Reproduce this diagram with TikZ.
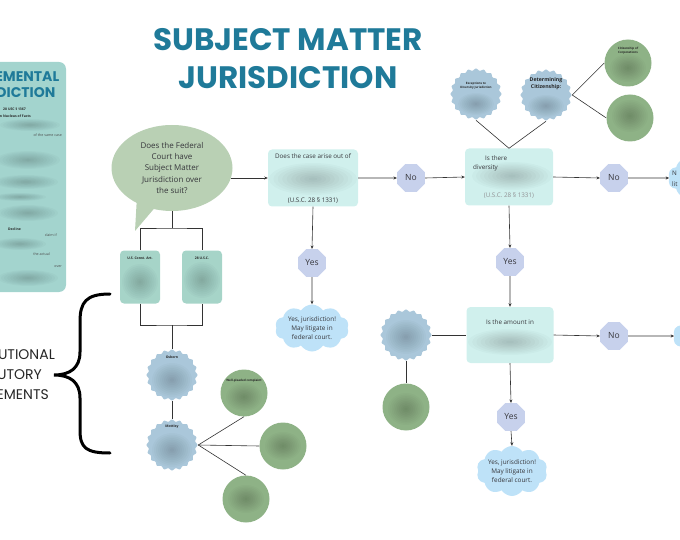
\documentclass[tikz,border=0pt]{standalone}
\usepackage{fontspec}
\setmainfont{Open Sans}
\newfontfamily\headfont{Poppins}
\usetikzlibrary{positioning,arrows.meta,shapes.geometric,shapes.symbols}

\definecolor{headblue}{RGB}{31,122,153}
\definecolor{panelteal}{RGB}{163,212,206}
\definecolor{bubblegreen}{RGB}{185,208,180}
\definecolor{sourceteal}{RGB}{166,212,200}
\definecolor{stepaqua}{RGB}{208,240,237}
\definecolor{starblue}{RGB}{170,199,218}
\definecolor{leafgreen}{RGB}{142,178,134}
\definecolor{octlilac}{RGB}{199,209,236}
\definecolor{cloudblue}{RGB}{190,226,248}
\definecolor{inkgray}{RGB}{55,55,60}

\def\px{1pt}
\newcommand{\haze}[4]{%
	\foreach \k in {1,...,10}
		{\fill[black, opacity=.02] (#1,#2) ellipse [x radius={#3*\k/10}, y radius={#4*\k/10}];}}

\begin{document}
\begin{tikzpicture}[%
	x=\px, y=-\px,%
	link/.style ={draw=black!80, line width=0.6pt},%
	flow/.style ={link, -{Stealth[length=3.5pt, width=3pt]}},%
	question/.style ={fill=stepaqua, rounded corners=4pt, minimum width=90pt, minimum height=57pt, inner sep=0pt},%
	source/.style ={fill=sourceteal, rounded corners=4pt, minimum width=40pt, minimum height=53pt, inner sep=0pt},%
	answer/.style ={regular polygon, regular polygon sides=8, fill=octlilac, minimum size=30pt, inner sep=0pt, text=inkgray, font=\fontsize{8.5}{10}\selectfont},%
	verdict/.style ={cloud, cloud puffs=10, cloud puff arc=115, fill=cloudblue, minimum width=74pt, minimum height=47pt, inner sep=0pt},%
	verdicttext/.style ={align=center, inner sep=0pt, text=inkgray, font=\fontsize{6.4}{8.8}\selectfont},%
	case/.style ={star, star points=20, star point ratio=1.12, fill=starblue, minimum size=52pt, inner sep=0pt, rounded corners=0.8pt},%
	leaf/.style ={circle, fill=leafgreen, minimum size=47pt, inner sep=0pt},%
	boxtext/.style ={text=inkgray, inner sep=0pt, font=\fontsize{6.3}{7.5}\selectfont},%
	smallprint/.style ={text=black!85, inner sep=0pt, align=center, font=\bfseries\fontsize{3.4}{4.2}\selectfont},%
	fineprint/.style ={text=black!70, inner sep=0pt, font=\fontsize{3.6}{4.2}\selectfont},%
	]
	\useasboundingbox (0,0) rectangle (680,540);
	\clip (0,0) rectangle (680,540);
%%% title
	\node (title) at (288,59) [text=headblue, align=center, font=\headfont\bfseries\fontsize{31}{38}\selectfont] {SUBJECT MATTER\\JURISDICTION};
%%% supplemental panel
	\node (supp) at (25,177) [fill=panelteal, rounded corners=7pt, minimum width=82pt, minimum height=230pt] {};
	\node (supptitle) at (6,85) [text=headblue, align=center, inner sep=0pt, font=\headfont\bfseries\fontsize{14}{16}\selectfont] {SUPPLEMENTAL\\JURISDICTION};
	\node [smallprint, anchor=east] at (26,109) {28 USC § 1367};
	\node [smallprint, anchor=east] at (31,116) {Common Nucleus of Facts};
	\node [fineprint, anchor=east] at (62,135) {of the same case};
	\node [smallprint, anchor=east] at (21,229) {Decline};
	\node [fineprint, anchor=east] at (57,235) {claim if};
	\node [fineprint, anchor=east] at (50,254) {the actual};
	\node [fineprint, anchor=east] at (62,267) {over};
	\foreach \x/\y/\rx/\ry in {30/125/30/6, 28/160/32/9, 26/182/32/7, 20/197/26/4, 28/213/30/8, 20/244/26/6, 28/278/30/8}
		{\haze{\x}{\y}{\rx}{\ry}}
%%% question bubble
	\fill [bubblegreen] (137,196) -- (135,231) -- (158,204) -- cycle;
	\node (ask) at (172,168) [ellipse, fill=bubblegreen, minimum width=121pt, minimum height=86pt, inner sep=0pt, align=center, text=inkgray, font=\fontsize{8}{11.2}\selectfont] {Does the Federal\\Court have\\Subject Matter\\Jurisdiction over\\the suit?};
%%% sources
	\node (art3) at (140,277) [source] {};
	\node (usc) at (202,277) [source] {};
	\node [smallprint] at (140,258) {U.S. Const. Art.};
	\node [smallprint] at (202,258) {28 U.S.C.};
	\haze{140}{282}{18}{18}
	\haze{202}{280}{18}{18}
	\coordinate (fork) at (172,228);
	\coordinate (join) at (172,325);
	\draw [link] (ask.south) -- (fork);
	\draw [link] (art3.north) |- (fork) -| (usc.north);
	\draw [link] (art3.south) |- (join) -| (usc.south);
%%% cases
	\node (osborn) at (172,375) [case] {};
	\node (mottley) at (172,445) [case] {};
	\node [smallprint] at (172,357) {Osborn};
	\node [smallprint] at (172,427) {Mottley};
	\haze{172}{380}{20}{17}
	\haze{172}{450}{20}{17}
	\draw [link] (join) -- (osborn.north);
	\draw [link] (osborn.south) -- (mottley.north);
	\node (wellpl) at (244,393) [leaf] {};
	\node (jmust) at (283,446) [leaf] {};
	\node (remov) at (246,499) [leaf] {};
	\node [smallprint, font=\bfseries\fontsize{3}{3.6}\selectfont] at (244,381) {Well-pleaded complaint};
	\foreach \x/\y in {244/397, 283/446, 246/499}
		{\haze{\x}{\y}{18}{14}}
	\draw [link] (mottley.east) -- (wellpl.south);
	\draw [link] (mottley.east) -- (jmust.west);
	\draw [link] (mottley.east) -- (remov.north);
%%% federal question
	\node (fed) at (313,178) [question] {};
	\node [boxtext] at (313,156) {Does the case arise out of};
	\node [boxtext] at (313,201) {(U.S.C. 28 § 1331)};
	\haze{313}{179}{44}{16}
	\node (yes1) at (312,263) [answer] {Yes};
	\node (yescl1) at (312,328) [verdict] {};
	\node at (yescl1) [verdicttext] {Yes, jurisdiction!\\May litigate in\\federal court.};
	\node (no1) at (411,178) [answer] {No};
	\draw [flow] (fed.west -| ask.-11) -- (fed.west);
	\draw [flow] (fed.south) -- (yes1.north);
	\draw [flow] (yes1.south) -- (yescl1.north);
	\draw [flow] (fed.east) -- (no1.west);
%%% diversity
	\node (div) at (509,177) [question, minimum width=88pt] {};
	\node [boxtext, anchor=west] at (485,158) {Is there};
	\node [boxtext, anchor=west] at (473,168) {diversity};
	\node [boxtext, text=inkgray!55] at (509,196) {(U.S.C. 28 § 1331)};
	\haze{512}{176}{40}{14}
	\node (except) at (476,94) [case] {};
	\node (citizen) at (546,95) [case] {};
	\node [smallprint, font=\bfseries\fontsize{3}{3.8}\selectfont] at (476,86) {Exceptions to\\Diversity Jurisdiction};
	\node [smallprint, font=\bfseries\fontsize{5.2}{7}\selectfont] at (546,84) {Determining\\Citizenship:};
	\haze{476}{104}{18}{11}
	\haze{546}{106}{18}{11}
	\node (corp) at (628,63) [leaf] {};
	\node (indiv) at (630,118) [leaf] {};
	\node [smallprint, font=\bfseries\fontsize{3}{3.6}\selectfont] at (628,51) {Citizenship of\\Corporations};
	\haze{628}{68}{18}{14}
	\haze{630}{116}{18}{16}
	\draw [link] (except.south) -- (div.north) -- (citizen.south);
	\draw [link] (citizen.east) -- (corp.west);
	\draw [link] (citizen.east) -- (indiv.west);
	\node (no2) at (614,178) [answer] {No};
	\node (nocl1) at (705,178) [verdict] {};
	\node [boxtext, anchor=west] at (672,173) {N};
	\node [boxtext, anchor=west] at (672,184) {lit};
	\node (yes2) at (510,262) [answer] {Yes};
	\draw [flow] (no1.east) -- (div.west);
	\draw [flow] (div.east) -- (no2.west);
	\draw [flow] (no2.east) -- (nocl1.west);
	\draw [flow] (div.south) -- (yes2.north);
%%% amount in controversy
	\node (amt) at (510,335) [question, minimum width=87pt, minimum height=56pt] {};
	\node [boxtext] at (510,322) {Is the amount in};
	\haze{510}{342}{42}{13}
	\node (plaintiff) at (406,335) [case] {};
	\haze{406}{337}{20}{17}
	\node (aggr) at (406,407) [leaf] {};
	\haze{406}{409}{18}{16}
	\node (no3) at (614,336) [answer] {No};
	\node (nocl2) at (710,336) [verdict] {};
	\node (yes3) at (511,417) [answer] {Yes};
	\node (yescl2) at (512,471) [verdict, minimum width=71pt, minimum height=50pt] {};
	\node at (yescl2) [verdicttext] {Yes, jurisdiction!\\May litigate in\\federal court.};
	\draw [flow] (yes2.south) -- (amt.north);
	\draw [link] (plaintiff.east) -- (amt.west);
	\draw [link] (plaintiff.south) -- (aggr.north);
	\draw [flow] (amt.east) -- (no3.west);
	\draw [flow] (no3.east) -- (nocl2.west);
	\draw [flow] (amt.south) -- (yes3.north);
	\draw [flow] (yes3.south) -- (yescl2.north);
%%% requirements bracket
	\draw [line width=3pt, line cap=round] (110,294) .. controls (86,294) and (80,302) .. (80,322) -- (80,352) .. controls (80,368) and (70,375) .. (54,375) .. controls (70,375) and (80,382) .. (80,398) -- (80,430) .. controls (80,448) and (86,453) .. (110,453);
	\foreach \y/\word/\edge in {355/CONSTITUTIONAL/55, 375/STATUTORY/42, 395/REQUIREMENTS/49}
		{\node [anchor=east, inner sep=0pt, text=black!85, font=\headfont\fontsize{14}{16}\selectfont] at (\edge,\y) {\word};}
\end{tikzpicture}
\end{document}
